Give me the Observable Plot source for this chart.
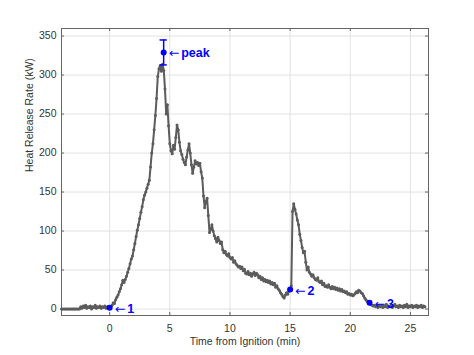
<!DOCTYPE html>
<html><head><meta charset="utf-8">
<script src="https://cdn.jsdelivr.net/npm/d3@7"></script>
<script src="https://cdn.jsdelivr.net/npm/@observablehq/plot@0.6"></script>
<style>body{margin:0;background:#fff;} svg{display:block}</style>
</head><body><div id="chart"></div>
<script>
// Heat release rate (kW), sampled every 0.1 min starting at t = -4.0 min
const tStart = -4.0;
const tStep = 0.1;
const hrr = [
  /* -4.0 */ 0,0,0,0,0,0,0,0,0,0,
  /* -3.0 */ 0,0,0,0,0,0,3,1,4,2,
  /* -2.0 */ 5,1,3,2,4,0,3,2,5,1,
  /* -1.0 */ 3,2,4,1,3,2,4,1,3,2,
  /*  0.0 */ 1,3,5,8,7,12,15,18,22,26,
  /*  1.0 */ 31,37,34,38,42,47,52,58,64,68,
  /*  2.0 */ 76,84,93,101,108,116,124,131,140,146,
  /*  3.0 */ 150,155,160,165,182,200,212,230,248,270,
  /*  4.0 */ 298,308,312,305,314,306,282,250,262,235,
  /*  5.0 */ 212,203,199,210,205,220,236,230,214,203,
  /*  6.0 */ 198,192,188,185,195,204,212,200,185,174,
  /*  7.0 */ 182,190,186,188,184,187,176,168,145,130,
  /*  8.0 */ 138,142,120,98,102,108,100,94,90,86,
  /*  9.0 */ 92,88,84,86,76,72,74,70,68,71,
  /* 10.0 */ 66,64,66,60,62,58,56,54,55,52,
  /* 11.0 */ 54,49,51,46,45,48,44,46,42,45,
  /* 12.0 */ 47,43,46,44,40,42,38,40,36,38,
  /* 13.0 */ 35,37,34,36,32,34,31,33,28,30,
  /* 14.0 */ 26,24,21,19,16,14,18,21,19,23,
  /* 15.0 */ 25,30,125,135,128,122,114,108,96,88,
  /* 16.0 */ 79,72,74,60,50,54,47,45,42,44,
  /* 17.0 */ 40,38,37,40,35,34,36,31,33,29,
  /* 18.0 */ 30,28,31,28,26,29,26,28,25,27,
  /* 19.0 */ 24,26,23,25,22,23,21,22,19,20,
  /* 20.0 */ 18,19,17,18,20,22,21,24,23,21,
  /* 21.0 */ 20,17,14,12,10,9,8,6,5,4,
  /* 22.0 */ 5,3,4,2,5,3,5,2,4,3,
  /* 23.0 */ 6,2,4,3,5,2,4,6,3,4,
  /* 24.0 */ 2,5,3,4,2,5,3,6,2,4,
  /* 25.0 */ 3,5,2,4,3,5,2,4,3,5,
  /* 26.0 */ 2,4,3
];

// Annotated points
const markT = [0, 4.49, 15.0, 21.6];
const markV = [1.5, 329, 25, 8];
const markLabel = ["1", "peak", "2", "3"];
const peakErr = 16;

// Axis ticks
const xTicks = [0, 5, 10, 15, 20, 25];
const yTicks = [0, 50, 100, 150, 200, 250, 300, 350];
const xLabel = "Time from Ignition (min)";
const yLabel = "Heat Release Rate (kW)";

const series = hrr.map((v, i) => ({t: +(tStart + i * tStep).toFixed(2), v}));
const marksData = markT.map((t, i) => ({t, v: markV[i], label: markLabel[i]}));
const peak = marksData[1];

const blue = "#0000ff";
const axisColor = "#666";
const lineColor = "#5c5c5c";

const chart = Plot.plot({
  width: 474, height: 355,
  marginLeft: 61, marginRight: 46, marginTop: 28, marginBottom: 40,
  style: {fontFamily: "'Liberation Sans', Arial, sans-serif", fontSize: "10px", color: "#333", background: "#fff"},
  x: {domain: [-4, 26.5]},
  y: {domain: [-8.3, 359.7]},
  marks: [
    Plot.gridX(xTicks, {stroke: "#e2e2e2", strokeOpacity: 1}),
    Plot.gridY(yTicks, {stroke: "#e2e2e2", strokeOpacity: 1}),
    Plot.frame({stroke: axisColor}),
    Plot.tickX(xTicks, {x: d => d, insetTop: 284, stroke: axisColor}),
    Plot.tickX(xTicks, {x: d => d, insetBottom: 284, stroke: axisColor}),
    Plot.tickY(yTicks, {y: d => d, insetRight: 364, stroke: axisColor}),
    Plot.tickY(yTicks, {y: d => d, insetLeft: 364, stroke: axisColor}),
    Plot.axisX(xTicks, {tickSize: 0, tickPadding: 9, label: null, fontSize: 10.5}),
    Plot.axisY(yTicks, {tickSize: 0, tickPadding: 5, label: null, fontSize: 10.5}),
    Plot.text([xLabel], {frameAnchor: "bottom", dy: 29, fontSize: 10.5}),
    Plot.text([yLabel], {frameAnchor: "left", rotate: -90, dx: -32, fontSize: 10.5}),
    Plot.line(series, {x: "t", y: "v", stroke: lineColor, strokeWidth: 2}),
    Plot.dot(series, {x: "t", y: "v", r: 1.5, fill: lineColor, stroke: null}),
    Plot.ruleX([peak], {x: "t", y1: d => d.v - peakErr, y2: d => d.v + peakErr, stroke: blue, strokeWidth: 1.5}),
    Plot.ruleY([peak.v - peakErr, peak.v + peakErr], {y: d => d, x1: peak.t - 0.3, x2: peak.t + 0.3, stroke: blue, strokeWidth: 1.5}),
    Plot.dot(marksData, {x: "t", y: "v", r: 3, fill: blue, stroke: null}),
    Plot.text(marksData, {x: "t", y: "v", text: () => "←", dx: 5, dy: 1, textAnchor: "start", fill: blue, fontSize: 12.5, fontFamily: "'DejaVu Sans', sans-serif"}),
    Plot.text(marksData, {x: "t", y: "v", text: "label", dx: 17.5, dy: 1, textAnchor: "start", fill: blue, fontSize: 12.5, fontWeight: "bold"})
  ]
});
document.getElementById("chart").appendChild(chart);
</script>
</body></html>
